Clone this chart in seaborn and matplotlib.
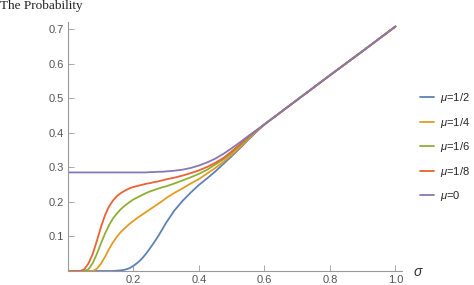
import numpy as np
import pandas as pd
import matplotlib
matplotlib.use("Agg")
import matplotlib.pyplot as plt
import seaborn as sns
from matplotlib.ticker import MultipleLocator, FixedLocator
from matplotlib.lines import Line2D

sigma = [0.0000, 0.0125, 0.0250, 0.0375, 0.0500, 0.0625, 0.0750, 0.0875, 0.1000,
         0.1125, 0.1250, 0.1375, 0.1500, 0.1625, 0.1750, 0.1875, 0.2000, 0.2125,
         0.2250, 0.2375, 0.2500, 0.2625, 0.2750, 0.2875, 0.3000,
         0.325, 0.350, 0.375, 0.400, 0.425, 0.450, 0.475, 0.500, 0.525, 0.550,
         0.575, 0.600, 0.700, 0.800, 0.900, 1.000]

mu_half = [0, 0, 0, 0, 0, 0, 0, 0, 0,
           0, 0, 0, 0.001, 0.002, 0.004, 0.008, 0.015, 0.024,
           0.035, 0.049, 0.065, 0.082, 0.100, 0.120, 0.140,
           0.175, 0.203, 0.227, 0.249, 0.268, 0.288, 0.310, 0.332, 0.355, 0.379,
           0.402, 0.424, 0.495, 0.566, 0.636, 0.707]
mu_quarter = [0, 0, 0, 0, 0, 0, 0, 0.006, 0.020,
              0.040, 0.063, 0.083, 0.100, 0.114, 0.125, 0.136, 0.145, 0.154,
              0.162, 0.170, 0.178, 0.186, 0.194, 0.202, 0.211,
              0.226, 0.239, 0.253, 0.266, 0.282, 0.298, 0.316, 0.336, 0.358, 0.382,
              0.404, 0.424, 0.495, 0.566, 0.636, 0.707]
mu_sixth = [0, 0, 0, 0, 0, 0.005, 0.022, 0.048, 0.078,
            0.107, 0.132, 0.152, 0.167, 0.180, 0.190, 0.199, 0.207, 0.213,
            0.219, 0.225, 0.230, 0.234, 0.238, 0.242, 0.245,
            0.253, 0.262, 0.271, 0.281, 0.293, 0.308, 0.323, 0.342, 0.363, 0.385,
            0.405, 0.424, 0.495, 0.566, 0.636, 0.707]
mu_eighth = [0, 0, 0, 0, 0.005, 0.022, 0.048, 0.085, 0.125,
             0.160, 0.186, 0.204, 0.217, 0.226, 0.233, 0.239, 0.243, 0.246,
             0.249, 0.252, 0.254, 0.257, 0.259, 0.262, 0.265,
             0.270, 0.276, 0.283, 0.291, 0.301, 0.313, 0.327, 0.346, 0.366, 0.387,
             0.406, 0.424, 0.495, 0.566, 0.636, 0.707]
mu_zero = [0.285, 0.285, 0.285, 0.285, 0.285, 0.285, 0.285, 0.285, 0.285,
           0.285, 0.285, 0.285, 0.285, 0.285, 0.285, 0.285, 0.285, 0.285,
           0.285, 0.285, 0.286, 0.286, 0.287, 0.287, 0.288,
           0.290, 0.293, 0.298, 0.305, 0.314, 0.325, 0.339, 0.355, 0.372, 0.390,
           0.407, 0.424, 0.495, 0.566, 0.636, 0.707]

labels = ["$\\mu$=1/2", "$\\mu$=1/4", "$\\mu$=1/6", "$\\mu$=1/8", "$\\mu$=0"]
colors = ["#5E81B5", "#E19C24", "#8FB032", "#EB6235", "#8778B3"]
series = [mu_half, mu_quarter, mu_sixth, mu_eighth, mu_zero]

df = pd.concat([pd.DataFrame({"sigma": sigma, "p": s, "mu": lab})
                for s, lab in zip(series, labels)], ignore_index=True)

sns.set_style("white")
plt.rcParams['font.family'] = ['Liberation Sans', 'DejaVu Sans']
plt.rcParams['mathtext.fontset'] = 'custom'
plt.rcParams['mathtext.it'] = 'Liberation Sans:italic'
plt.rcParams['mathtext.rm'] = 'Liberation Sans'

fig = plt.figure(figsize=(4.74, 2.85), dpi=100)
ax = fig.add_axes([68/474, 14/285, (402-68)/474, (271-22)/285])

sns.lineplot(data=df, x="sigma", y="p", hue="mu", hue_order=labels,
             palette=colors, linewidth=1.3, ax=ax, legend=False, sort=False)

ax.set_xlim(0, 1.02)
ax.set_ylim(0, 0.72)
ax.set_xlabel("")
ax.set_ylabel("")
for sp in ["top", "right"]:
    ax.spines[sp].set_visible(False)
for sp in ["left", "bottom"]:
    ax.spines[sp].set_color("#999999")
    ax.spines[sp].set_linewidth(0.8)

ax.xaxis.set_major_locator(FixedLocator([0.2, 0.4, 0.6, 0.8, 1.0]))
ax.xaxis.set_minor_locator(MultipleLocator(0.04))
ax.yaxis.set_major_locator(FixedLocator([0.1, 0.2, 0.3, 0.4, 0.5, 0.6, 0.7]))
ax.yaxis.set_minor_locator(MultipleLocator(0.02))
ax.tick_params(which="both", direction="in", color="#999999", labelcolor="#555555",
               labelsize=8, width=0.6)
ax.tick_params(which="major", length=4, pad=3)
ax.tick_params(which="minor", length=2)
ax.tick_params(axis="x", bottom=True)
ax.tick_params(axis="y", left=True)
ax.set_xticklabels(["0.2", "0.4", "0.6", "0.8", "1.0"])
ax.set_yticklabels(["0.1", "0.2", "0.3", "0.4", "0.5", "0.6", "0.7"])

fig.text(0.0, 1.0, "The Probability", family="Liberation Serif", fontsize=9.5,
         ha="left", va="top", color="#222222")
fig.text(418/474, (285-272)/285, "$\\sigma$", fontsize=10, ha="center", va="center",
         color="#333333")

handles = [Line2D([0], [0], color=c, lw=1.3) for c in colors]
fig.legend(handles, labels, loc="upper left", bbox_to_anchor=(420/474, 1 - 91/285),
           frameon=False, fontsize=8, handlelength=1.3, handletextpad=0.5,
           labelspacing=0.95, borderaxespad=0, borderpad=0)

fig.savefig("out.png", dpi=100)
